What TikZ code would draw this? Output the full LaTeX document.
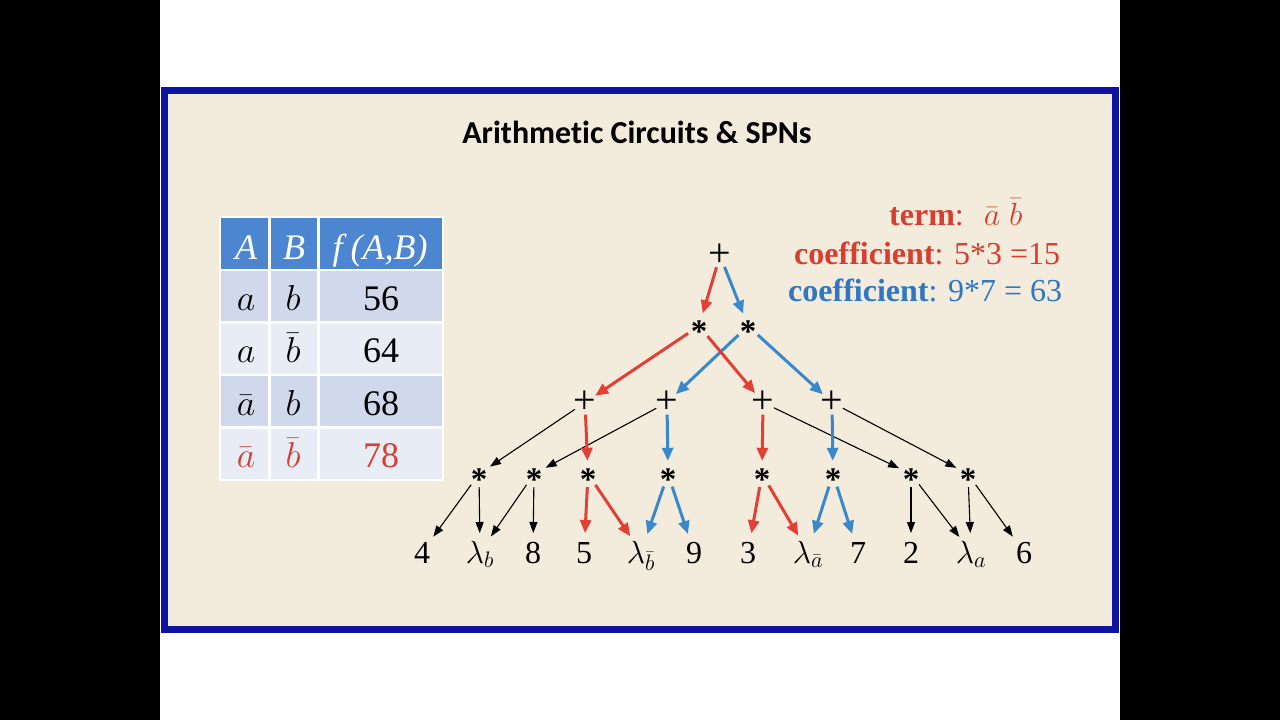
\RequirePackage{fix-cm}
\documentclass[tikz,border=0pt]{standalone}
\usepackage{fontspec}
\setmainfont{Liberation Serif}
\newfontfamily\titlefont[Ligatures={NoCommon}]{Carlito}
\usetikzlibrary{arrows.meta}
\definecolor{cred}{RGB}{226,64,52}
\definecolor{cblue}{RGB}{58,136,204}
\definecolor{tred}{RGB}{216,62,48}
\definecolor{tblue}{RGB}{48,118,192}
\definecolor{frameblue}{RGB}{12,20,160}
\definecolor{beige}{RGB}{243,236,221}
\definecolor{thead}{RGB}{76,134,208}
\definecolor{tband}{RGB}{208,217,236}
\definecolor{tlight}{RGB}{232,236,245}
\tikzset{
  plusn/.style={circle, inner sep=-3pt, minimum size=24pt, text depth=0pt, font=\fontsize{40}{40}\selectfont},
  starn/.style={circle, inner sep=-4pt, minimum size=26pt, text height=32pt, text depth=0pt, font=\bfseries\fontsize{33}{33}\selectfont},
  leafn/.style={circle, inner sep=0pt, minimum size=38pt, text height=21.6pt, text depth=0pt, font=\fontsize{32}{32}\selectfont},
  redarr/.style={draw=cred, line width=3pt, -{Triangle[length=13pt,width=11pt]}},
  bluearr/.style={draw=cblue, line width=3pt, -{Triangle[length=13pt,width=11pt]}},
  blkarr/.style={draw=black, line width=1.1pt, -{Triangle[length=11pt,width=8pt]}},
  cellbox/.style={draw=white, line width=2.5pt},
  celltext/.style={anchor=base, inner sep=0pt, font=\fontsize{36}{36}\selectfont},
  headtext/.style={anchor=base, inner sep=0pt, text=white, font=\itshape\fontsize{36}{36}\selectfont},
  rtext/.style={anchor=base west, inner sep=0pt, font=\fontsize{32}{32}\selectfont},
}
\begin{document}
\begin{tikzpicture}[x=1pt, y=-1pt]
\useasboundingbox (0,0) rectangle (1280,720);
% video frame
\fill[white] (0,0) rectangle (1280,720);
\fill[black] (0,0) rectangle (160,720);
\fill[black] (1120,0) rectangle (1280,720);
% slide
\fill[beige] (164.5,90.5) rectangle (1115.5,629.5);
\draw[frameblue, line width=7pt] (164.5,90.5) rectangle (1115.5,629.5);
% title
\node[anchor=base, inner sep=0pt, font=\titlefont\bfseries\fontsize{32}{32}\selectfont] (title) at (637,143) {Arithmetic Circuits \& SPNs};

% table
\fill[thead, cellbox] (220,217) rectangle (269.5,270);
\fill[thead, cellbox] (269.5,217) rectangle (318.5,270);
\fill[thead, cellbox] (318.5,217) rectangle (443,270);
\foreach \r/\c in {0/tband,1/tlight,2/tband,3/tlight}{
  \fill[\c, cellbox] (220,{270+52.5*\r}) rectangle (269.5,{322.5+52.5*\r});
  \fill[\c, cellbox] (269.5,{270+52.5*\r}) rectangle (318.5,{322.5+52.5*\r});
  \fill[\c, cellbox] (318.5,{270+52.5*\r}) rectangle (443,{322.5+52.5*\r});
}
\node[headtext] (hA) at (246,259.5) {A};
\node[headtext] (hB) at (294,259.5) {B};
\node[headtext] (hF) at (380,259.5) {f\hspace{8pt}(A,B)};
\node[celltext] (a1) at (246,310) {$a$};
\node[celltext] (b1) at (293,310) {$b$};
\node[celltext] (v1) at (381,310) {56};
\node[celltext] (a2) at (246,362.5) {$a$};
\node[celltext] (b2) at (293,362.5) {$\bar b$};
\node[celltext] (v2) at (381,362.5) {64};
\node[celltext] (a3) at (246,415) {$\bar a$};
\node[celltext] (b3) at (293,415) {$b$};
\node[celltext] (v3) at (381,415) {68};
\node[celltext, text=tred] (a4) at (246,467.5) {$\bar a$};
\node[celltext, text=tred] (b4) at (293,467.5) {$\bar b$};
\node[celltext, text=tred] (v4) at (381,467.5) {78};

% annotation
\node[rtext, text=tred] (term) at (889,225) {\textbf{term}:\hspace{20pt}$\bar a\;\bar b$};
\node[rtext, text=tred] (coefr) at (794,264) {\textbf{coefficient}: 5*3 =15};
\node[rtext, text=tblue] (coefb) at (788,301.5) {\textbf{coefficient}: 9*7 = 63};

% circuit nodes
\node[plusn] (root) at (720,255.5) {+};
\node[starn] (m1) at (699,326) {*};
\node[starn] (m2) at (748,326) {*};
\node[plusn] (p1) at (585,402.5) {+};
\node[plusn] (p2) at (667,402.5) {+};
\node[plusn] (p3) at (763,402.5) {+};
\node[plusn] (p4) at (832,402.5) {+};
\node[starn] (s1) at (479,474) {*};
\node[starn] (s2) at (534,474) {*};
\node[starn] (s3) at (588,474) {*};
\node[starn] (s4) at (668,474) {*};
\node[starn] (s5) at (762,474) {*};
\node[starn] (s6) at (833,474) {*};
\node[starn] (s7) at (911,474) {*};
\node[starn] (s8) at (968,474) {*};
\node[leafn] (l1) at (422,552.2) {4};
\node[leafn] (l2) at (480,552.2) {$\lambda_b$};
\node[leafn] (l3) at (533,552.2) {8};
\node[leafn] (l4) at (584,552.2) {5};
\node[leafn] (l5) at (641,552.2) {$\lambda_{\bar b}$};
\node[leafn] (l6) at (694,552.2) {9};
\node[leafn] (l7) at (748,552.2) {3};
\node[leafn] (l8) at (808,552.2) {$\lambda_{\bar a}$};
\node[leafn] (l9) at (858,552.2) {7};
\node[leafn] (l10) at (911,552.2) {2};
\node[leafn] (l11) at (971,552.2) {$\lambda_a$};
\node[leafn] (l12) at (1024,552.2) {6};

% black connectors
\draw[blkarr] (p1) -- (s1);
\draw[blkarr] (p2) -- (s2);
\draw[blkarr] (p3) -- (s7);
\draw[blkarr] (p4) -- (s8);
\draw[blkarr] (s1) -- (l1);
\draw[blkarr] (s1) -- (l2);
\draw[blkarr] (s2) -- (l2);
\draw[blkarr] (s2) -- (l3);
\draw[blkarr] (s7) -- (l10);
\draw[blkarr] (s7) -- (l11);
\draw[blkarr] (s8) -- (l11);
\draw[blkarr] (s8) -- (l12);
% blue connectors
\draw[bluearr] (root) -- (m2);
\draw[bluearr] (m2) -- (p2);
\draw[bluearr] (m2) -- (p4);
\draw[bluearr] (p2) -- (s4);
\draw[bluearr] (p4) -- (s6);
\draw[bluearr] (s4) -- (l5);
\draw[bluearr] (s4) -- (l6);
\draw[bluearr] (s6) -- (l8);
\draw[bluearr] (s6) -- (l9);
% red connectors
\draw[redarr] (root) -- (m1);
\draw[redarr] (m1) -- (p1);
\draw[redarr] (m1) -- (p3);
\draw[redarr] (p1) -- (s3);
\draw[redarr] (p3) -- (s5);
\draw[redarr] (s3) -- (l4);
\draw[redarr] (s3) -- (l5);
\draw[redarr] (s5) -- (l7);
\draw[redarr] (s5) -- (l8);
\end{tikzpicture}
\end{document}
